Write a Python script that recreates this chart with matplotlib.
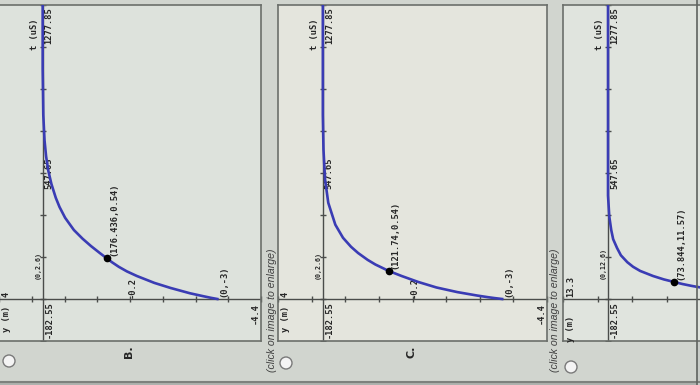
import matplotlib
matplotlib.use("Agg")
import matplotlib.pyplot as plt
from matplotlib.patches import Ellipse, Rectangle
from matplotlib.lines import Line2D

W, H = 700, 385

# ---- data ----
T_TICKS = [-182.55, 0, 182.55, 365.1, 547.65, 730.2, 912.75, 1095.3, 1277.85]
T_MIN, T_MAX = -182.55, 1277.85
BC_YTICKS = [4, 2.95, 1.9, 0.85, -0.2, -1.25, -2.3, -3.35, -4.4]
D_YTICKS = [13.3, 12.7625, 12.225, 11.6875, 11.15, 10.6125, 10.075, 9.5375, 9.0]

B_T = [0, 5, 13, 25, 48, 70, 100, 120, 140, 160, 176.436, 200, 230, 262, 300,
       353, 400, 440, 500, 558, 620, 689, 800, 1000, 1277.85]
B_Y = [-3.0, -2.8, -2.52, -2.12, -1.5, -0.98, -0.42, -0.1, 0.16, 0.38, 0.54, 0.77,
       1.05, 1.32, 1.6, 1.88, 2.06, 2.18, 2.32, 2.42, 2.49, 2.54, 2.58, 2.6, 2.6]
B_MARK = (176.436, 0.54)

C_T = [0, 4, 8, 15, 30, 50, 74, 100, 121.74, 150, 170, 200, 227, 266, 323, 418,
       519, 650, 800, 1277.85]
C_Y = [-3.0, -2.76, -2.55, -2.22, -1.6, -0.95, -0.38, 0.14, 0.54, 0.96, 1.2, 1.5,
       1.72, 1.97, 2.21, 2.43, 2.53, 2.58, 2.6, 2.6]
C_MARK = (121.74, 0.54)

D_T = [0, 10, 20, 30, 40, 50, 57, 65, 73.844, 85, 100, 122, 140, 160, 190, 222,
       260, 300, 358, 450, 1277.85]
D_Y = [9.8, 10.15, 10.46, 10.73, 10.96, 11.16, 11.3, 11.44, 11.57, 11.73, 11.9,
       12.1, 12.21, 12.3, 12.4, 12.46, 12.52, 12.55, 12.58, 12.6, 12.6]
D_MARK = (73.844, 11.57)

BLUE = "#3a3cb4"
AXC = "#4a4c4a"
TXT = "#262626"

fig = plt.figure(figsize=(7, 3.85), dpi=100, facecolor="#d1d5cf")

# page decorations
fig.add_artist(Rectangle((0, 0), 1, 3 / H, transform=fig.transFigure, color="#aeb2ae", zorder=0))
fig.add_artist(Line2D([0, 1], [1 - 382 / H] * 2, transform=fig.transFigure, color="#7d817d", lw=1.5))
fig.add_artist(Rectangle((697 / W, 0), 3 / W, 1, transform=fig.transFigure, color="#c8ccc8", zorder=0))
fig.add_artist(Line2D([697 / W] * 2, [0, 1], transform=fig.transFigure, color="#5f635f", lw=1.2))


def panel(left, right, ymax, ymin, yticks, axis_val, face):
    top, bottom = 5, 341
    ax = fig.add_axes([left / W, 1 - bottom / H, (right - left) / W, (bottom - top) / H])
    ax.set_facecolor(face)
    ax.set_xlim(ymax, ymin)
    ax.set_ylim(T_MIN, T_MAX)
    ax.set_xticks([])
    ax.set_yticks([])
    for s in ax.spines.values():
        s.set_color("#6b6f6b")
        s.set_linewidth(1.2)
    ax.axhline(0, color=AXC, lw=1.0)
    ax.axvline(axis_val, color=AXC, lw=1.0)
    ax.plot(yticks, [0] * len(yticks), ls="none", marker="|", ms=5, mew=1.0, color=AXC, clip_on=False)
    ax.plot([axis_val] * len(T_TICKS), T_TICKS, ls="none", marker="_", ms=4, mew=1.0, color=AXC)
    return ax


def lab(ax, s, xy, off, ha, va, size=6.3):
    ax.annotate(s, xy=xy, xytext=off, textcoords="offset pixels", rotation=90,
                ha=ha, va=va, fontsize=size, family="DejaVu Sans Mono",
                fontweight="bold", color=TXT, annotation_clip=False)


def decorate(ax, ymax, ymin, axis_val, ymax_txt, axis_txt, mark, mark_txt, ym_off,
             mid_txt=None, start_txt=None, ymin_txt=None):
    lab(ax, "1277.85", (axis_val, T_MAX), (2, -2), "left", "top")
    lab(ax, "547.65", (axis_val, 547.65), (2, 0), "left", "center")
    lab(ax, "-182.55", (axis_val, T_MIN), (2, 3), "left", "bottom")
    lab(ax, "t (uS)", (axis_val, T_MAX), (-4, -13), "right", "top")
    lab(ax, axis_txt, (axis_val, 0), (-2, 20), "right", "bottom", size=4.8)
    lab(ax, ymax_txt, (ymax, 0), (3, 2), "left", "bottom")
    lab(ax, "y (m)", (ymax, 0), (3, ym_off), "left", "top")
    if mid_txt:
        lab(ax, mid_txt, (-0.2, 0), (2, 1), "center", "bottom")
    if start_txt:
        lab(ax, start_txt, (-3, 0), (2, 2), "left", "bottom")
    if ymin_txt:
        lab(ax, ymin_txt, (ymin, 0), (-1, -4), "right", "top")
    ax.plot([mark[1]], [mark[0]], "o", color="black", ms=4.5, zorder=5)
    lab(ax, mark_txt, (mark[1], mark[0]), (2, 2), "left", "bottom")


# Panel B
axB = panel(-1, 261, 4, -4.4, BC_YTICKS, 2.6, "#dde2dc")
axB.plot(B_Y, B_T, color=BLUE, lw=1.9, zorder=4, solid_joinstyle="round")
decorate(axB, 4, -4.4, 2.6, "4", "(0,2.6)", B_MARK, "(176.436,0.54)", -7,
         "-0.2", "(0,-3)", "-4.4")

# Panel C
axC = panel(278, 547, 4, -4.4, BC_YTICKS, 2.6, "#e4e5dd")
axC.plot(C_Y, C_T, color=BLUE, lw=1.9, zorder=4, solid_joinstyle="round")
decorate(axC, 4, -4.4, 2.6, "4", "(0,2.6)", C_MARK, "(121.74,0.54)", -7,
         "-0.2", "(0,-3)", "-4.4")

# Panel D (cut off at the right edge)
axD = panel(563, 839.5, 13.3, 9.0, D_YTICKS, 12.6, "#e0e4de")
axD.plot(D_Y, D_T, color=BLUE, lw=1.9, zorder=4, solid_joinstyle="round")
decorate(axD, 13.3, 9.0, 12.6, "13.3", "(0,12.6)", D_MARK, "(73.844,11.57)", -17)

# page texts
for x, y, s in [(129, 352, "B."), (412, 352, "C.")]:
    fig.text(x / W, 1 - y / H, s, rotation=90, ha="center", va="center",
             fontsize=8, fontweight="bold", color=TXT, family="DejaVu Sans")
for x in (272, 555):
    fig.text(x / W, 1 - 372 / H, "(click on image to enlarge)", rotation=90,
             ha="center", va="bottom", fontsize=7.6, style="italic",
             color="#404040", family="Liberation Sans")
for x, y in [(9, 361), (286, 363), (571, 367)]:
    fig.add_artist(Ellipse((x / W, 1 - y / H), 12 / W, 12 / H, transform=fig.transFigure,
                           facecolor="#f4f4f4", edgecolor="#7a7a7a", lw=1.0))

fig.savefig("out.png", dpi=100, facecolor=fig.get_facecolor())
